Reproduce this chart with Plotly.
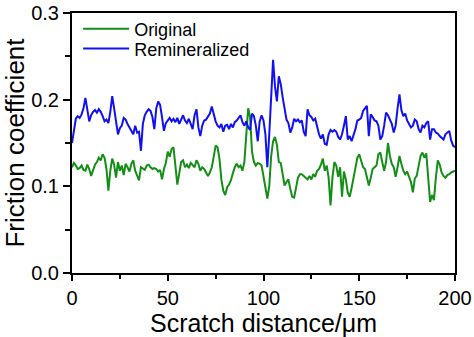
import plotly.graph_objects as go

distance = list(range(201))

original = [
    0.122, 0.127, 0.124, 0.120, 0.121, 0.124, 0.119, 0.118, 0.125, 0.120,
    0.112, 0.118, 0.125, 0.128, 0.133, 0.130, 0.137, 0.133, 0.120, 0.095,
    0.118, 0.132, 0.125, 0.110, 0.128, 0.118, 0.124, 0.113, 0.126, 0.122,
    0.117, 0.126, 0.130, 0.118, 0.112, 0.107, 0.122, 0.120, 0.119, 0.124,
    0.125, 0.122, 0.120, 0.121, 0.120, 0.117, 0.119, 0.108, 0.120, 0.127,
    0.140, 0.134, 0.143, 0.145, 0.125, 0.102, 0.115, 0.128, 0.130, 0.122,
    0.125, 0.121, 0.127, 0.124, 0.122, 0.130, 0.126, 0.118, 0.122, 0.120,
    0.115, 0.112, 0.116, 0.122, 0.134, 0.147, 0.145, 0.132, 0.108, 0.095,
    0.090, 0.099, 0.102, 0.107, 0.115, 0.122, 0.126, 0.122, 0.124, 0.118,
    0.128, 0.158, 0.190, 0.180, 0.140, 0.128, 0.124, 0.127, 0.126, 0.124,
    0.110, 0.095, 0.086, 0.100, 0.135, 0.152, 0.157, 0.148, 0.128, 0.127,
    0.112, 0.101, 0.105, 0.108, 0.097, 0.088, 0.087, 0.098, 0.110, 0.114,
    0.114, 0.112, 0.110, 0.108, 0.112, 0.108, 0.114, 0.111, 0.118, 0.120,
    0.125, 0.132, 0.118, 0.124, 0.110, 0.078, 0.110, 0.128, 0.124, 0.111,
    0.122, 0.088, 0.117, 0.108, 0.093, 0.088, 0.098, 0.110, 0.124, 0.133,
    0.137, 0.130, 0.122, 0.120, 0.112, 0.101, 0.110, 0.120, 0.122, 0.124,
    0.137, 0.139, 0.128, 0.118, 0.128, 0.150, 0.135, 0.126, 0.122, 0.111,
    0.122, 0.135, 0.126, 0.118, 0.114, 0.117, 0.111, 0.105, 0.093, 0.109,
    0.112, 0.125, 0.135, 0.139, 0.133, 0.138, 0.110, 0.082, 0.090, 0.084,
    0.110, 0.130, 0.125, 0.116, 0.112, 0.110, 0.113, 0.114, 0.116, 0.117,
    0.118,
]

remineralized = [
    0.150, 0.163, 0.178, 0.181, 0.179, 0.183, 0.190, 0.202, 0.187, 0.175,
    0.182, 0.186, 0.188, 0.185, 0.189, 0.186, 0.181, 0.175, 0.177, 0.173,
    0.186, 0.204, 0.190, 0.175, 0.160, 0.167, 0.170, 0.179, 0.177, 0.172,
    0.168, 0.165, 0.160, 0.170, 0.162, 0.163, 0.141, 0.172, 0.182, 0.186,
    0.189, 0.187, 0.180, 0.166, 0.190, 0.198, 0.194, 0.180, 0.164, 0.173,
    0.176, 0.179, 0.175, 0.178, 0.174, 0.179, 0.172, 0.177, 0.182, 0.176,
    0.173, 0.178, 0.172, 0.166, 0.182, 0.189, 0.168, 0.158, 0.170, 0.176,
    0.177, 0.181, 0.184, 0.192, 0.182, 0.175, 0.170, 0.168, 0.172, 0.163,
    0.170, 0.171, 0.166, 0.172, 0.168, 0.174, 0.176, 0.179, 0.182, 0.174,
    0.170, 0.175, 0.168, 0.165, 0.184, 0.181, 0.170, 0.152, 0.175, 0.182,
    0.176, 0.160, 0.122, 0.160, 0.210, 0.246, 0.215, 0.198, 0.227, 0.218,
    0.203, 0.190, 0.177, 0.173, 0.162, 0.168, 0.178, 0.175, 0.177, 0.174,
    0.176, 0.163, 0.158, 0.189, 0.182, 0.180, 0.176, 0.178, 0.168, 0.160,
    0.155, 0.160, 0.149, 0.148, 0.160, 0.165, 0.163, 0.165, 0.163, 0.157,
    0.154, 0.160, 0.170, 0.181, 0.154, 0.158, 0.152, 0.158, 0.166, 0.176,
    0.177, 0.179, 0.187, 0.190, 0.193, 0.158, 0.183, 0.180, 0.176, 0.175,
    0.170, 0.154, 0.158, 0.170, 0.185, 0.182, 0.176, 0.172, 0.162, 0.170,
    0.190, 0.206, 0.188, 0.181, 0.184, 0.176, 0.172, 0.168, 0.170, 0.177,
    0.175, 0.166, 0.162, 0.170, 0.168, 0.173, 0.175, 0.154, 0.166, 0.166,
    0.162, 0.161, 0.158, 0.156, 0.154, 0.160, 0.162, 0.164, 0.153, 0.147,
    0.145,
]

x_ticks = [0, 50, 100, 150, 200]
y_ticks = [0.0, 0.1, 0.2, 0.3]
y_tick_labels = ["0.0", "0.1", "0.2", "0.3"]

FONT = "Liberation Sans, Arial, sans-serif"

fig = go.Figure()
fig.add_trace(go.Scatter(x=distance, y=original, mode="lines", name="Original",
                         line=dict(color="#128f14", width=2), legend="legend"))
fig.add_trace(go.Scatter(x=distance, y=remineralized, mode="lines", name="Remineralized",
                         line=dict(color="#1010f2", width=2), legend="legend2"))

leg_common = dict(xanchor="left", yanchor="middle", bgcolor="rgba(0,0,0,0)",
                  font=dict(size=18, family=FONT, color="black"), itemwidth=46)

fig.update_layout(
    width=474, height=337,
    margin=dict(l=72, r=19, t=11, b=64),
    paper_bgcolor="white", plot_bgcolor="white",
    font=dict(family=FONT, color="black", size=20),
    showlegend=True,
    legend=dict(x=0.016, y=0.938, **leg_common),
    legend2=dict(x=0.016, y=0.862, **leg_common),
)
fig.update_xaxes(
    range=[0, 200], tickvals=x_ticks, ticktext=[str(v) for v in x_ticks],
    showgrid=False, zeroline=False, automargin=False,
    showline=True, linecolor="black", linewidth=2, mirror=True,
    ticks="outside", ticklen=6, tickwidth=1.5, tickcolor="black",
    minor=dict(dtick=25, ticks="outside", ticklen=4, tickwidth=1.5, tickcolor="black", showgrid=False),
    tickfont=dict(size=20, family=FONT),
    title=dict(text="Scratch distance/μm", font=dict(size=25, family=FONT), standoff=5),
)
fig.update_yaxes(
    range=[0, 0.3], tickvals=y_ticks, ticktext=y_tick_labels,
    showgrid=False, zeroline=False, automargin=False,
    showline=True, linecolor="black", linewidth=2, mirror=True,
    ticks="outside", ticklen=7, tickwidth=1.5, tickcolor="black",
    minor=dict(dtick=0.05, ticks="outside", ticklen=5, tickwidth=1.5, tickcolor="black", showgrid=False),
    tickfont=dict(size=20, family=FONT),
    title=dict(text="Friction coefficient", font=dict(size=26, family=FONT), standoff=4),
)

fig.write_html("out.html")
